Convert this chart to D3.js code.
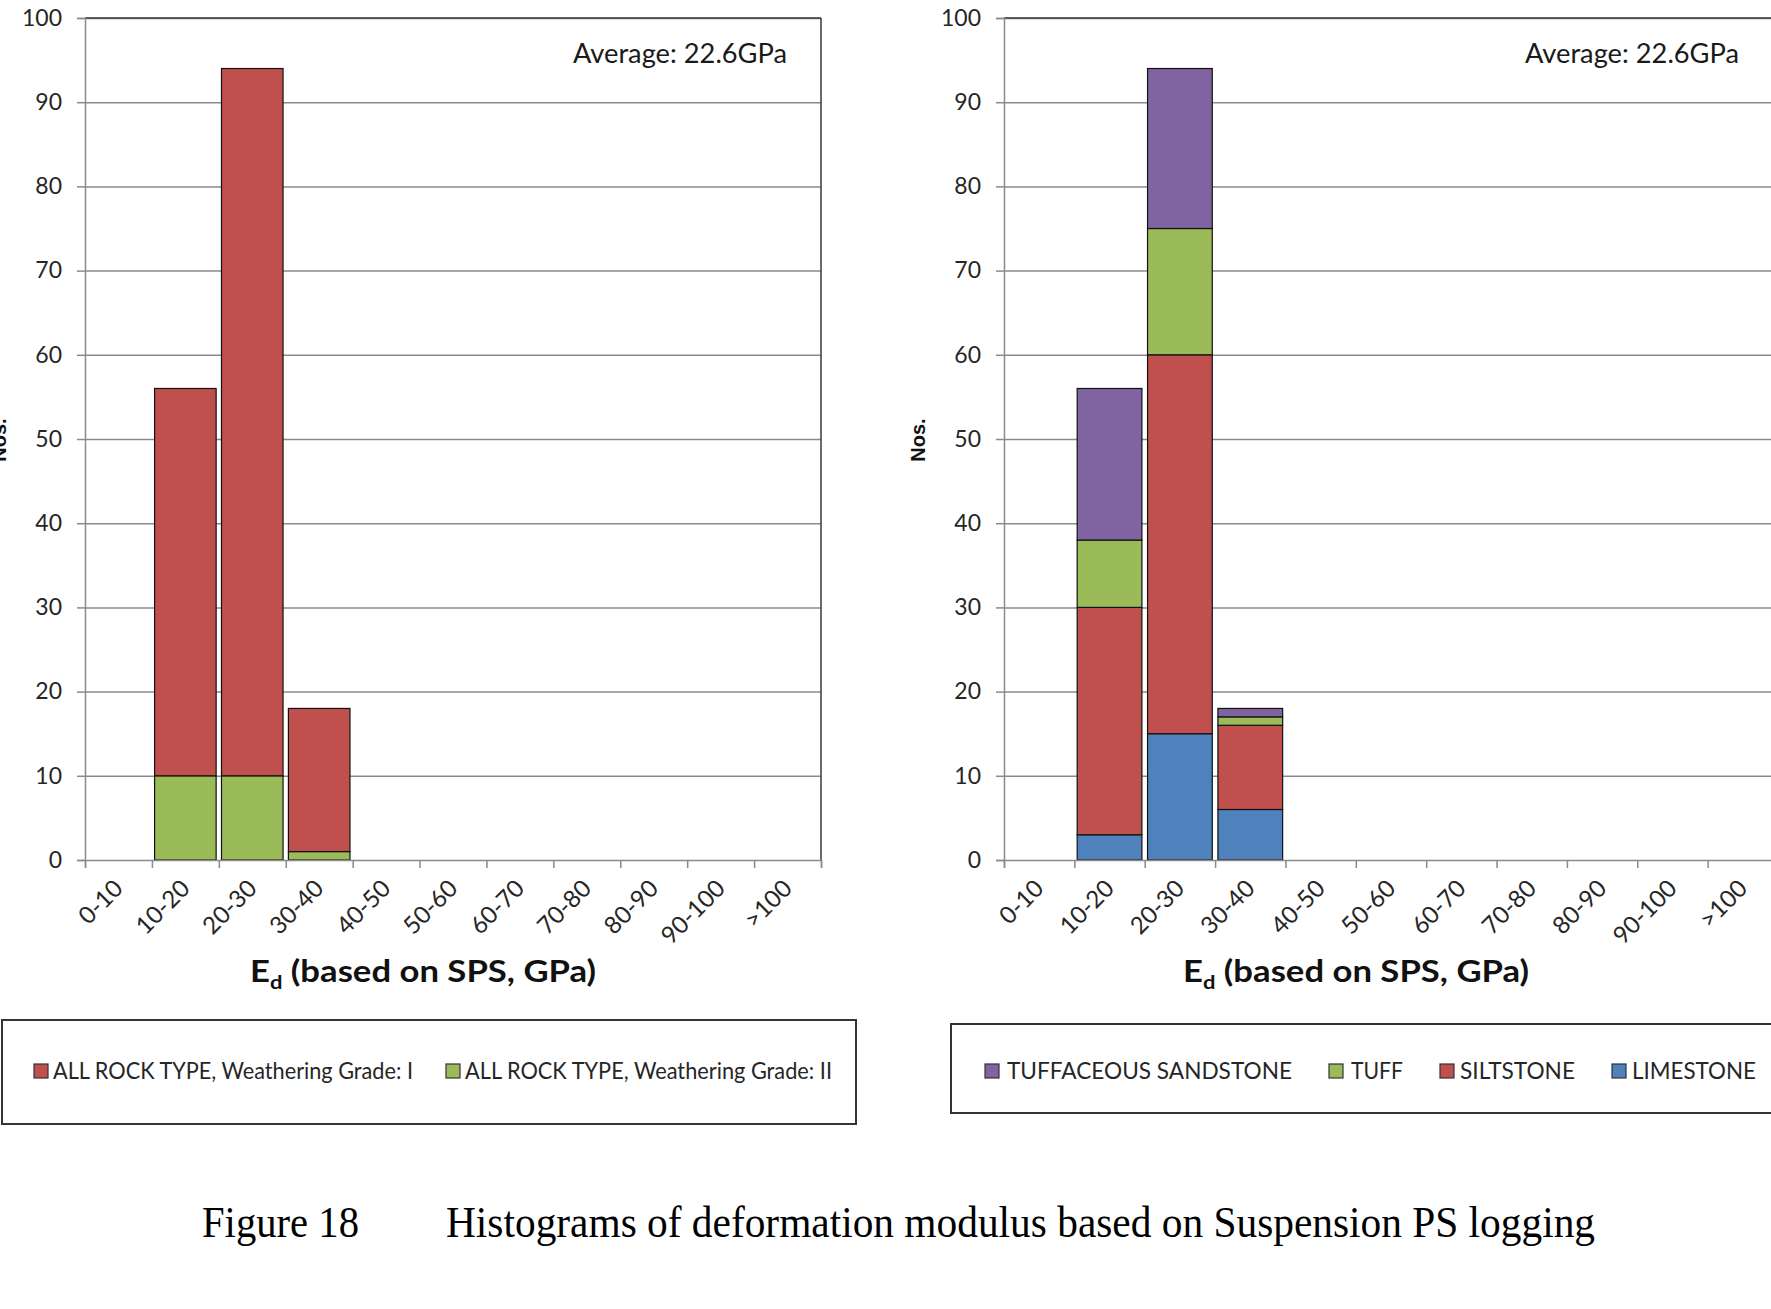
<!DOCTYPE html>
<html>
<head>
<meta charset="utf-8">
<script src="https://d3js.org/d3.v7.min.js"></script>
<style>
  body { margin: 0; background: white; }
  svg { display: block; }
</style>
</head>
<body>
<div id="fig"></div>
<script>
// ---- data ----
var categories = ["0-10", "10-20", "20-30", "30-40", "40-50", "50-60", "60-70", "70-80", "80-90", "90-100", ">100"];
var yTicks = [0, 10, 20, 30, 40, 50, 60, 70, 80, 90, 100];

// left panel: weathering grade
var gradeI  = [0, 46, 84, 17, 0, 0, 0, 0, 0, 0, 0];
var gradeII = [0, 10, 10, 1, 0, 0, 0, 0, 0, 0, 0];

// right panel: rock type
var limestone  = [0, 3, 15, 6, 0, 0, 0, 0, 0, 0, 0];
var siltstone  = [0, 27, 45, 10, 0, 0, 0, 0, 0, 0, 0];
var tuff       = [0, 8, 15, 1, 0, 0, 0, 0, 0, 0, 0];
var tuffSand   = [0, 18, 19, 1, 0, 0, 0, 0, 0, 0, 0];

var averageText = "Average: 22.6GPa";
var yTitle = "Nos.";
var caption1 = "Figure 18";
var caption2 = "Histograms of deformation modulus based on Suspension PS logging";

var W = 1771, H = 1309;
var top0 = 18, bot0 = 860;
var sansFont = "Lato, 'Open Sans', sans-serif";

var svg = d3.select("#fig").append("svg")
    .attr("width", W).attr("height", H)
    .style("background", "white");

var y = d3.scaleLinear().domain([0, 100]).range([bot0, top0]);

function drawPanel(p) {
  var g = svg.append("g");
  var x = d3.scaleBand().domain(categories).range([p.x0, p.x1])
      .paddingInner(0.08).paddingOuter(0.04);
  var xb = d3.scaleLinear().domain([0, categories.length]).range([p.x0, p.x1]);

  // gridlines
  g.append("g")
    .attr("transform", "translate(" + p.x0 + ",0)")
    .call(d3.axisLeft(y).tickValues(yTicks.slice(1)).tickSize(-(p.x1 - p.x0)).tickFormat(""))
    .call(function(s) { s.select(".domain").remove(); })
    .selectAll("line").attr("stroke", "#8a8a8a").attr("stroke-width", 1.5);

  // frame top / right
  g.append("line").attr("x1", p.x0).attr("x2", p.x1).attr("y1", top0).attr("y2", top0)
    .attr("stroke", "#3a3a3a").attr("stroke-width", 1.5);
  g.append("line").attr("x1", p.x1).attr("x2", p.x1).attr("y1", top0).attr("y2", bot0)
    .attr("stroke", "#3a3a3a").attr("stroke-width", 1.5);

  // stacked bars
  var rows = categories.map(function(c, i) {
    var r = {cat: c};
    p.series.forEach(function(s) { r[s.name] = s.values[i]; });
    return r;
  });
  var stack = d3.stack().keys(p.series.map(function(s) { return s.name; }))(rows);
  stack.forEach(function(layer, li) {
    g.append("g").selectAll("rect")
      .data(layer.filter(function(d) { return d[1] - d[0] > 0; }))
      .enter().append("rect")
        .attr("x", function(d) { return x(d.data.cat); })
        .attr("y", function(d) { return y(d[1]); })
        .attr("width", x.bandwidth())
        .attr("height", function(d) { return y(d[0]) - y(d[1]); })
        .attr("fill", p.series[li].color)
        .attr("stroke", "#111").attr("stroke-width", 1.2);
  });

  // y axis
  var ya = g.append("g")
    .attr("transform", "translate(" + p.x0 + ",0)")
    .call(d3.axisLeft(y).tickValues(yTicks).tickSize(8).tickPadding(15));
  ya.select(".domain").attr("stroke", "#8a8a8a").attr("stroke-width", 1.5);
  ya.selectAll("line").attr("stroke", "#8a8a8a").attr("stroke-width", 1.5);
  ya.selectAll("text").attr("font-family", sansFont).attr("font-size", 23).attr("fill", "#262626");

  // x axis: ticks on band boundaries
  var xa = g.append("g")
    .attr("transform", "translate(0," + bot0 + ")")
    .call(d3.axisBottom(xb).tickValues(d3.range(categories.length + 1)).tickSize(8).tickFormat(""));
  xa.select(".domain").attr("stroke", "#8a8a8a").attr("stroke-width", 1.5);
  xa.selectAll("line").attr("stroke", "#8a8a8a").attr("stroke-width", 1.5);

  g.append("g").selectAll("text")
    .data(categories).enter().append("text")
      .attr("transform", function(c) {
        return "translate(" + (x(c) + x.bandwidth() / 2 + 6) + "," + (bot0 + 30) + ") rotate(-45)";
      })
      .attr("text-anchor", "end")
      .attr("font-family", sansFont).attr("font-size", 24).attr("fill", "#262626")
      .text(function(c) { return c; });

  // x title with subscript
  var t = g.append("text")
    .attr("x", p.titleX).attr("y", 982)
    .attr("font-family", sansFont).attr("font-weight", "bold").attr("font-size", 30).attr("fill", "#111")
    .attr("textLength", 346).attr("lengthAdjust", "spacingAndGlyphs");
  t.append("tspan").text("E");
  t.append("tspan").attr("font-size", 19).attr("dy", 7).text("d");
  t.append("tspan").attr("dy", -7).text(" (based on SPS, GPa)");

  // y title
  g.append("text")
    .attr("transform", "translate(" + p.nosX + "," + ((top0 + bot0) / 2 + 1) + ") rotate(-90)")
    .attr("text-anchor", "middle")
    .attr("font-family", "'Liberation Sans', Arial, sans-serif").attr("font-weight", "bold")
    .attr("font-size", 20).attr("fill", "#111")
    .text(yTitle);

  // average note
  g.append("text")
    .attr("x", p.avgX).attr("y", 63)
    .attr("font-family", sansFont).attr("font-size", 27).attr("fill", "#1a1a1a")
    .attr("textLength", 214).attr("lengthAdjust", "spacingAndGlyphs")
    .text(averageText);

  // legend box
  g.append("rect")
    .attr("x", p.legBox[0]).attr("y", p.legBox[1])
    .attr("width", p.legBox[2]).attr("height", p.legBox[3])
    .attr("fill", "none").attr("stroke", "#333").attr("stroke-width", 2);

  p.legendOrder.forEach(function(name, i) {
    var s = p.series.find(function(d) { return d.name === name; });
    var it = p.legItems[i];
    g.append("rect")
      .attr("x", it[0]).attr("y", 1064).attr("width", 14).attr("height", 14)
      .attr("fill", s.color).attr("stroke", "#333").attr("stroke-width", 1.2);
    g.append("text")
      .attr("x", it[1]).attr("y", 1079)
      .attr("font-family", sansFont).attr("font-size", 23).attr("fill", "#262626")
      .attr("textLength", it[2]).attr("lengthAdjust", "spacingAndGlyphs")
      .text(name);
  });
}

drawPanel({
  x0: 85, x1: 821,
  series: [
    {name: "ALL ROCK TYPE, Weathering Grade: II", values: gradeII, color: "#9BBB59"},
    {name: "ALL ROCK TYPE, Weathering Grade: I", values: gradeI, color: "#C0504D"}
  ],
  legendOrder: ["ALL ROCK TYPE, Weathering Grade: I", "ALL ROCK TYPE, Weathering Grade: II"],
  legItems: [[34, 53, 360], [446, 465, 367]],
  legBox: [2, 1020, 854, 104],
  titleX: 250, nosX: 6, avgX: 573
});

drawPanel({
  x0: 1004, x1: 1778,
  series: [
    {name: "LIMESTONE", values: limestone, color: "#4F81BD"},
    {name: "SILTSTONE", values: siltstone, color: "#C0504D"},
    {name: "TUFF", values: tuff, color: "#9BBB59"},
    {name: "TUFFACEOUS SANDSTONE", values: tuffSand, color: "#8064A2"}
  ],
  legendOrder: ["TUFFACEOUS SANDSTONE", "TUFF", "SILTSTONE", "LIMESTONE"],
  legItems: [[985, 1007, 285], [1329, 1351, 52], [1440, 1460, 115], [1612, 1632, 124]],
  legBox: [951, 1024, 840, 89],
  titleX: 1183, nosX: 925, avgX: 1525
});

// caption
svg.append("text").attr("x", 202).attr("y", 1237)
  .attr("font-family", "'Liberation Serif', 'Times New Roman', serif").attr("font-size", 44).attr("fill", "#000")
  .attr("textLength", 157).attr("lengthAdjust", "spacingAndGlyphs")
  .text(caption1);
svg.append("text").attr("x", 446).attr("y", 1237)
  .attr("font-family", "'Liberation Serif', 'Times New Roman', serif").attr("font-size", 44).attr("fill", "#000")
  .attr("textLength", 1149).attr("lengthAdjust", "spacingAndGlyphs")
  .text(caption2);
</script>
</body>
</html>
